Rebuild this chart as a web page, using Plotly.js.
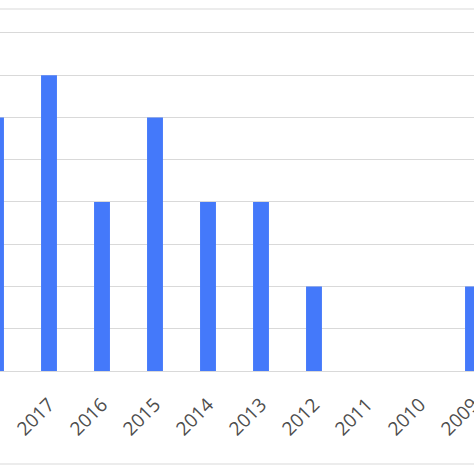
<!DOCTYPE html>
<html>
<head>
<meta charset="utf-8">
<script src="https://cdn.plot.ly/plotly-3.0.1.min.js"></script>
<style>html,body{margin:0;padding:0;background:#fff;}#chart{width:474px;height:474px;}</style>
</head>
<body>
<div id="chart"></div>
<script>
var years = ["2018","2017","2016","2015","2014","2013","2012","2011","2010","2009"];
var counts = [6, 7, 4, 6, 4, 4, 2, 0, 0, 2];

var trace = {
  type: 'bar',
  x: years,
  y: counts,
  marker: {color: '#4479fa'},
  hoverinfo: 'skip'
};

var layout = {
  width: 474,
  height: 474,
  margin: {l: 0, r: 0, t: 0, b: 103, pad: 0},
  paper_bgcolor: '#ffffff',
  plot_bgcolor: '#ffffff',
  showlegend: false,
  bargap: 0.7,
  xaxis: {
    type: 'category',
    range: [0.0755, 9.019],
    tickangle: -45,
    ticks: '',
    ticklabelstandoff: 14,
    tickfont: {family: 'Open Sans, sans-serif', size: 19, color: '#4d4d4d'},
    showgrid: false,
    showline: true,
    linecolor: '#d9d9d9',
    linewidth: 1,
    zeroline: false
  },
  yaxis: {
    range: [0, 8.78],
    dtick: 1,
    showticklabels: false,
    ticks: '',
    showgrid: true,
    gridcolor: '#d9d9d9',
    gridwidth: 1,
    zeroline: false,
    showline: false
  },
  shapes: [
    {type: 'line', xref: 'paper', yref: 'paper', x0: 0, x1: 1, y0: 0.9757, y1: 0.9757,
     line: {color: '#d9d9d9', width: 1}},
    {type: 'line', xref: 'paper', yref: 'paper', x0: 0, x1: 1, y0: -0.2507, y1: -0.2507,
     line: {color: '#d9d9d9', width: 1}}
  ]
};

Plotly.newPlot('chart', [trace], layout, {staticPlot: true, displayModeBar: false});
</script>
</body>
</html>
